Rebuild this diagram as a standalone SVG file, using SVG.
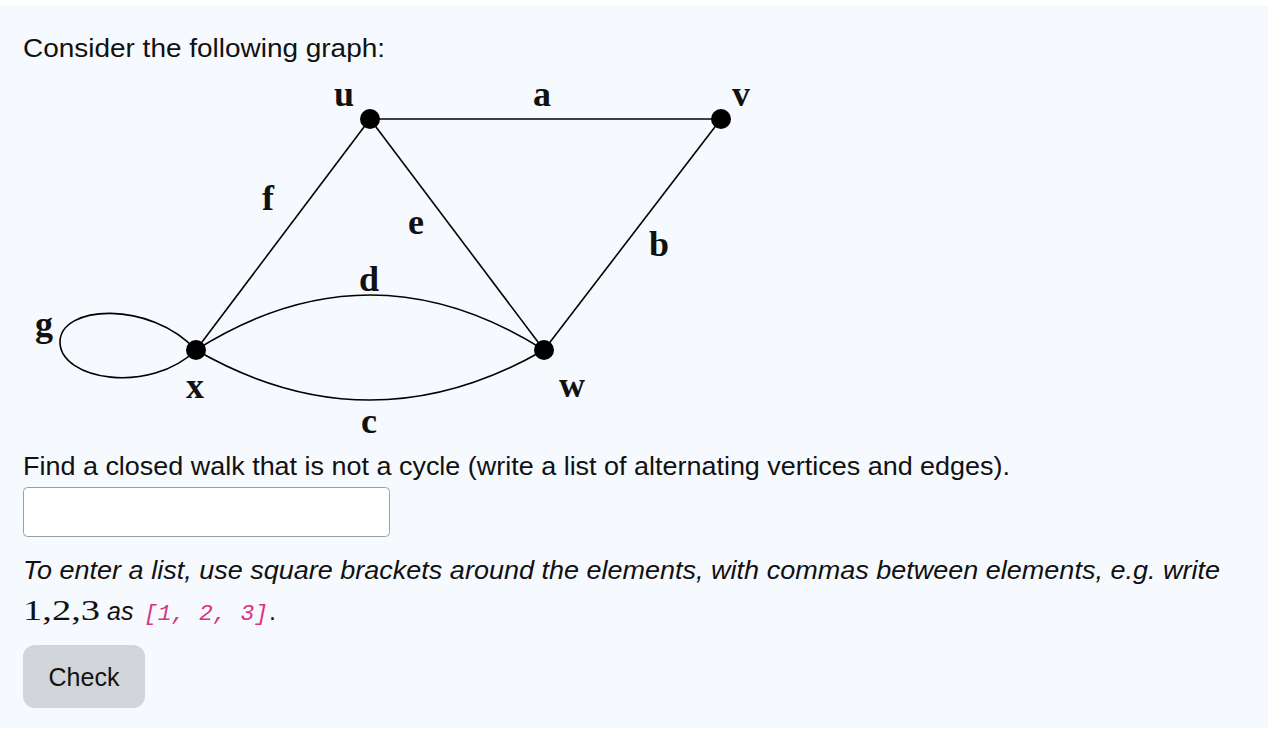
<svg xmlns="http://www.w3.org/2000/svg" width="1270" height="730" viewBox="0 0 1270 730">
<style>
.s{font-family:"Liberation Sans",Arial,sans-serif;font-size:25px;fill:#111}
.m{font-family:"Liberation Serif","Times New Roman",serif;font-size:36px;font-weight:bold;fill:#111}
.e{fill:none;stroke:#000;stroke-width:1.6}
.n{fill:#000}
</style>
<rect width="1270" height="730" fill="#fff"/>
<rect x="0" y="6" width="1268" height="722" fill="#f6f9fd"/>
<text class="s" x="23" y="57" textLength="362" lengthAdjust="spacingAndGlyphs">Consider the following graph:</text>
<g id="edges">
<line class="e" x1="370" y1="119" x2="721" y2="119"/>
<line class="e" x1="721" y1="119" x2="544" y2="350"/>
<line class="e" x1="370" y1="119" x2="544" y2="350"/>
<line class="e" x1="370" y1="119" x2="196" y2="350"/>
<path class="e" d="M196,350 Q370,240 544,350"/>
<path class="e" d="M196,350 Q370,450 544,350"/>
<path class="e" d="M196,350 C150,300 60,305 60,342 C60,380 150,395 196,350"/>
</g>
<g id="u"><circle class="n" cx="370" cy="119" r="10"/><text class="m" x="344" y="106" text-anchor="middle">u</text></g>
<g id="v"><circle class="n" cx="721" cy="119" r="10"/><text class="m" x="741" y="106" text-anchor="middle">v</text></g>
<g id="x"><circle class="n" cx="196" cy="350" r="10"/><text class="m" x="195" y="398" text-anchor="middle">x</text></g>
<g id="w"><circle class="n" cx="544" cy="350" r="10"/><text class="m" x="572" y="397" text-anchor="middle">w</text></g>
<g id="labels">
<text class="m" x="542" y="106" text-anchor="middle">a</text>
<text class="m" x="268" y="210" text-anchor="middle">f</text>
<text class="m" x="416" y="234" text-anchor="middle">e</text>
<text class="m" x="659" y="256" text-anchor="middle">b</text>
<text class="m" x="369" y="291" text-anchor="middle">d</text>
<text class="m" x="44" y="336" text-anchor="middle">g</text>
<text class="m" x="369" y="433" text-anchor="middle">c</text>
</g>
<text class="s" x="23" y="475" textLength="987" lengthAdjust="spacingAndGlyphs">Find a closed walk that is not a cycle (write a list of alternating vertices and edges).</text>
<rect x="23.5" y="487.5" width="366" height="49" rx="4" fill="#fff" stroke="#9aa0a6"/>
<text class="s" x="23" y="579" font-style="italic" textLength="1197" lengthAdjust="spacingAndGlyphs">To enter a list, use square brackets around the elements, with commas between elements, e.g. write</text>
<text x="23" y="620" font-family="Liberation Serif,serif" font-size="30" fill="#111" textLength="77" lengthAdjust="spacingAndGlyphs">1,2,3</text>
<text class="s" x="107" y="620" font-style="italic">as</text>
<text x="144" y="620" font-family="Liberation Mono,monospace" font-size="22" font-style="italic" fill="#d63384" textLength="124" lengthAdjust="spacingAndGlyphs">[1, 2, 3]</text>
<text class="s" x="269" y="620">.</text>
<g id="check"><rect x="23" y="645" width="122" height="63" rx="12" fill="#d1d4d9"/><text class="s" x="84" y="686" text-anchor="middle" fill="#222">Check</text></g>
</svg>
